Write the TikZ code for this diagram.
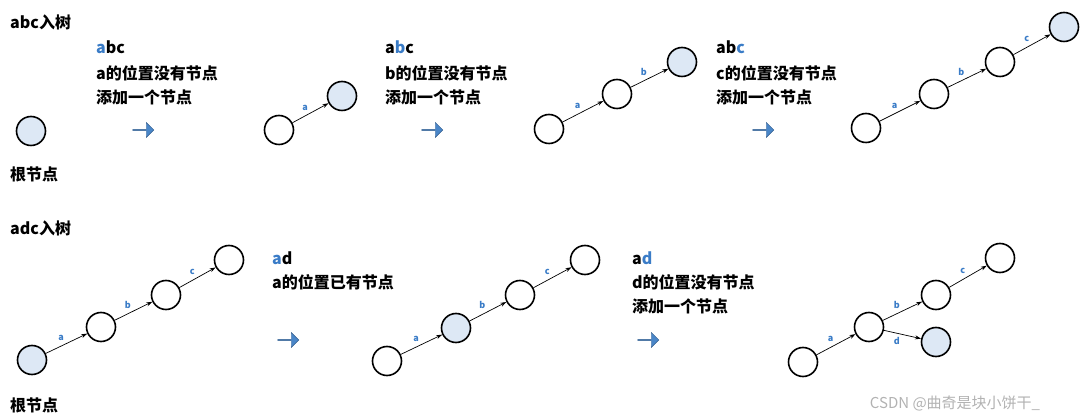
\documentclass[tikz,border=0pt]{standalone}
\usepackage{fontspec}
\setmainfont{Noto Sans CJK SC}
\usetikzlibrary{shapes.arrows,arrows.meta}
\definecolor{lb}{HTML}{DDE8F5}
\definecolor{bl}{HTML}{3A7CC7}
\definecolor{ab}{HTML}{4A86C8}
\tikzset{
 nd/.style={circle,draw=black,line width=1.6pt,minimum size=29pt,inner sep=0pt,fill=white},
 nf/.style={nd,fill=lb},
 ed/.style={-{Stealth[length=6pt,width=4pt]},line width=0.7pt},
 el/.style={text=bl,font=\bfseries\fontsize{9}{9}\selectfont},
 tx/.style={anchor=west,font=\bfseries\fontsize{16}{16}\selectfont,inner sep=0pt},
 ar/.style={single arrow,fill=ab,draw=ab!70!black,line width=0.4pt,minimum height=21pt,minimum width=15pt,single arrow head extend=2.5pt,inner sep=0pt}
}
\begin{document}
\begin{tikzpicture}[x=1pt,y=-1pt]
\useasboundingbox (0,0) rectangle (1080,419);
% row 1
\node[tx] (t1) at (10,22) {abc入树};
\node[nf] (r0) at (31,131) {};
\node[tx] (g1) at (10,174) {根节点};
\node[tx] (p1a) at (96,47) {\textcolor{bl}{a}bc};
\node[tx] (p1b) at (96,73) {a的位置没有节点};
\node[tx] (p1c) at (96,97) {添加一个节点};
\node[ar] (a1) at (143,130) {};
\node[nd] (u0) at (279,130) {};
\node[nf] (u1) at (342,96) {};
\draw[ed] (u0) -- node[el,above left=-1pt] {a} (u1);
\node[tx] (p2a) at (385,47) {a\textcolor{bl}{b}c};
\node[tx] (p2b) at (385,73) {b的位置没有节点};
\node[tx] (p2c) at (385,97) {添加一个节点};
\node[ar] (a2) at (432,130) {};
\node[nd] (v0) at (549,129) {};
\node[nd] (v1) at (617,94) {};
\node[nf] (v2) at (682,62) {};
\draw[ed] (v0) -- node[el,above left=-1pt] {a} (v1);
\draw[ed] (v1) -- node[el,above left=-1pt] {b} (v2);
\node[tx] (p3a) at (716,47) {ab\textcolor{bl}{c}};
\node[tx] (p3b) at (716,73) {c的位置没有节点};
\node[tx] (p3c) at (716,97) {添加一个节点};
\node[ar] (a3) at (763,130) {};
\node[nd] (w0) at (866,128) {};
\node[nd] (w1) at (934,94) {};
\node[nd] (w2) at (1000,62) {};
\node[nf] (w3) at (1064,27) {};
\draw[ed] (w0) -- node[el,above left=-1pt] {a} (w1);
\draw[ed] (w1) -- node[el,above left=-1pt] {b} (w2);
\draw[ed] (w2) -- node[el,above left=-1pt] {c} (w3);
% row 2
\node[tx] (t2) at (10,228) {adc入树};
\node[tx] (g2) at (10,405) {根节点};
\node[nf] (x0) at (32,360) {};
\node[nd] (x1) at (101,327) {};
\node[nd] (x2) at (166,295) {};
\node[nd] (x3) at (229,260) {};
\draw[ed] (x0) -- node[el,above left=-1pt] {a} (x1);
\draw[ed] (x1) -- node[el,above left=-1pt] {b} (x2);
\draw[ed] (x2) -- node[el,above left=-1pt] {c} (x3);
\node[tx] (p4a) at (272,258) {\textcolor{bl}{a}d};
\node[tx] (p4b) at (272,282) {a的位置已有节点};
\node[ar] (a4) at (288,340) {};
\node[nd] (y0) at (387,361) {};
\node[nf] (y1) at (456,328) {};
\node[nd] (y2) at (520,295) {};
\node[nd] (y3) at (585,260) {};
\draw[ed] (y0) -- node[el,above left=-1pt] {a} (y1);
\draw[ed] (y1) -- node[el,above left=-1pt] {b} (y2);
\draw[ed] (y2) -- node[el,above left=-1pt] {c} (y3);
\node[tx] (p5a) at (632,258) {a\textcolor{bl}{d}};
\node[tx] (p5b) at (632,282) {d的位置没有节点};
\node[tx] (p5c) at (632,306) {添加一个节点};
\node[ar] (a5) at (648,340) {};
\node[nd] (z0) at (803,362) {};
\node[nd] (z1) at (869,327) {};
\node[nd] (z2) at (936,295) {};
\node[nd] (z3) at (1000,258) {};
\node[nf] (z4) at (936,342) {};
\draw[ed] (z0) -- node[el,above left=-1pt] {a} (z1);
\draw[ed] (z1) -- node[el,above left=-1pt] {b} (z2);
\draw[ed] (z2) -- node[el,above left=-1pt] {c} (z3);
\draw[ed] (z1) -- node[el,below left=-1pt] {d} (z4);
\node[font=\fontsize{15}{15}\selectfont,text=black!30] (wm) at (955,403) {CSDN @曲奇是块小饼干\_};
\end{tikzpicture}
\end{document}
